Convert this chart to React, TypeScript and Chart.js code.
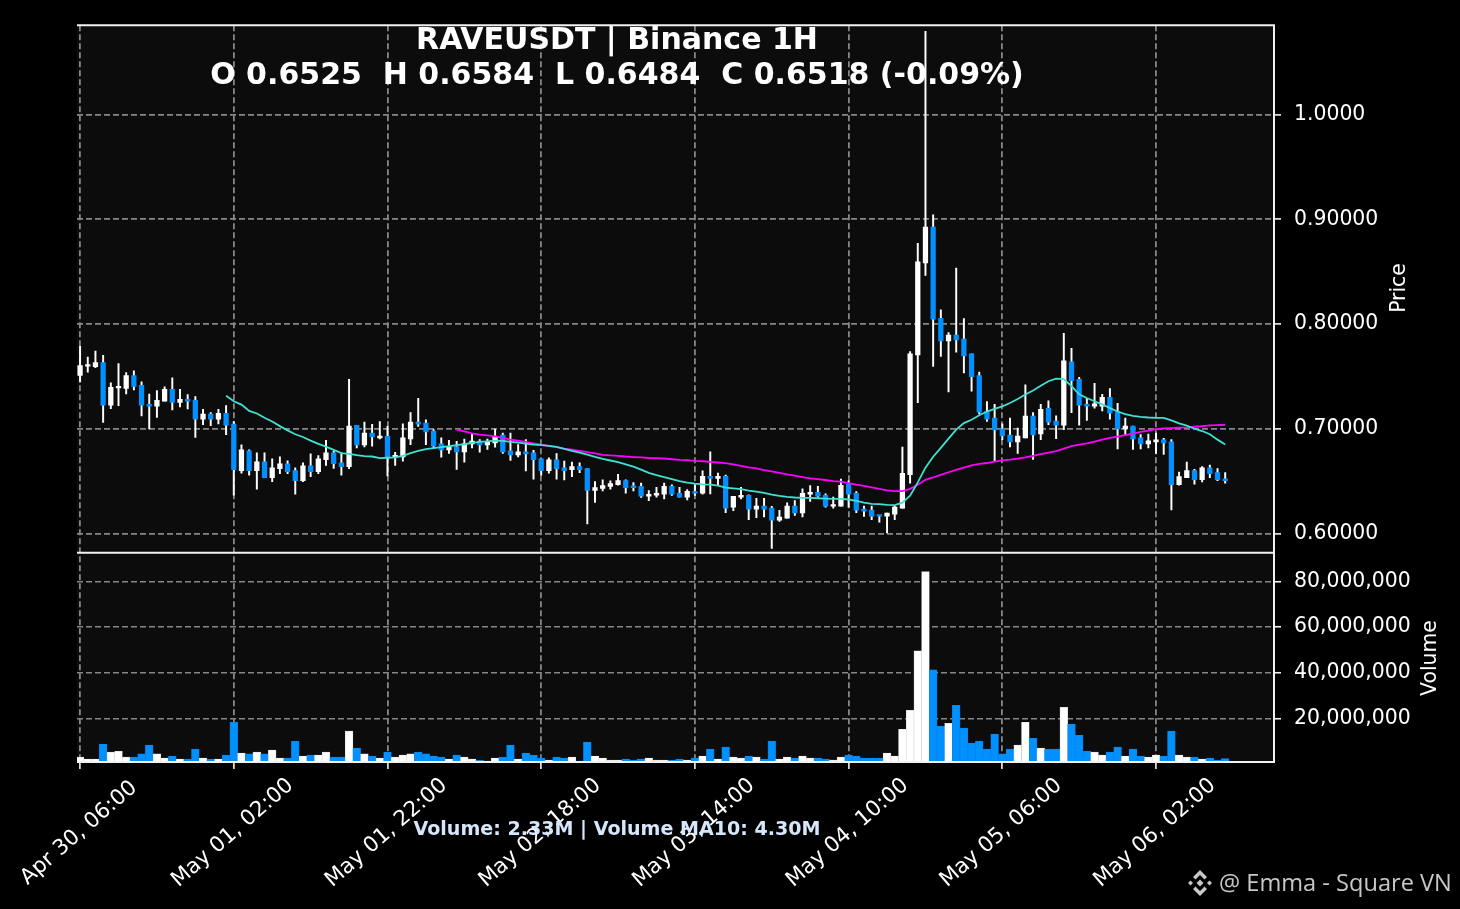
import React, { useEffect, useRef } from "react";
import { Chart, registerables } from "chart.js";

Chart.register(...registerables);

const titleLines = ["RAVEUSDT | Binance 1H", "O 0.6525  H 0.6584  L 0.6484  C 0.6518 (-0.09%)"];
const footerText = "Volume: 2.33M | Volume MA10: 4.30M";
const watermark = "@ Emma - Square VN";

const timeLabels = ["Apr 30, 06:00", "May 01, 02:00", "May 01, 22:00", "May 02, 18:00", "May 03, 14:00", "May 04, 10:00", "May 05, 06:00", "May 06, 02:00"];
const timeTickIndex = [0, 20, 40, 60, 80, 100, 120, 140];
const priceTicks = [0.6, 0.7, 0.8, 0.9, 1.0];
const priceTickLabels = ["0.60000", "0.70000", "0.80000", "0.90000", "1.0000"];
const volumeTicks = [20e6, 40e6, 60e6, 80e6];
const volumeTickLabels = ["20,000,000", "40,000,000", "60,000,000", "80,000,000"];

const opens = [
  .7511, .7600, .7596, .7634, .7227, .7392, .7388, .7511, .7416, .7236,
  .7217, .7265, .7378, .7255, .7284, .7274, .7095, .7142, .7095, .7151,
  .7047, .6603, .6792, .6603, .6688, .6537, .6622, .6669, .6603, .6508,
  .6650, .6593, .6707, .6773, .6678, .6641, .7035, .6849, .6962, .6915,
  .6931, .6733, .6735, .6905, .7066, .7057, .6981, .6858, .6801, .6830,
  .6782, .6858, .6886, .6849, .6868, .6943, .6792, .6754, .6782, .6773,
  .6716, .6603, .6707, .6631, .6612, .6641, .6622, .6414, .6433, .6452,
  .6470, .6508, .6452, .6454, .6359, .6369, .6378, .6454, .6388, .6350,
  .6403, .6388, .6548, .6530, .6548, .6255, .6350, .6369, .6236, .6265,
  .6246, .6132, .6151, .6265, .6199, .6378, .6397, .6369, .6265, .6265,
  .6473, .6388, .6236, .6227, .6177, .6170, .6189, .6246, .6566, .7708,
  .8585, .8925, .8057, .7840, .7896, .7858, .7717, .7509, .7167, .7104,
  .7000, .6943, .6877, .6915, .7123, .6953, .7198, .7075, .7038, .7642,
  .7473, .7236, .7217, .7217, .7303, .7161, .7000, .7028, .6915, .6858,
  .6877, .6896, .6877, .6470, .6537, .6603, .6518, .6631, .6584, .6525,
];
const highs = [
  .7788, .7687, .7744, .7703, .7441, .7624, .7539, .7555, .7451, .7334,
  .7366, .7403, .7489, .7378, .7328, .7309, .7189, .7158, .7189, .7224,
  .7072, .6849, .6801, .6773, .6773, .6716, .6735, .6697, .6631, .6678,
  .6764, .6748, .6893, .6789, .6773, .7473, .7035, .7066, .7044, .7072,
  .7025, .6779, .7050, .7158, .7293, .7088, .6994, .6915, .6893, .6883,
  .6905, .6953, .6899, .6905, .7000, .6962, .6962, .6852, .6899, .6798,
  .6716, .6726, .6767, .6694, .6685, .6678, .6622, .6499, .6515, .6505,
  .6568, .6515, .6489, .6485, .6413, .6444, .6485, .6467, .6444, .6422,
  .6467, .6602, .6782, .6580, .6561, .6359, .6444, .6372, .6340, .6340,
  .6262, .6224, .6296, .6318, .6429, .6460, .6454, .6381, .6350, .6523,
  .6507, .6403, .6265, .6265, .6177, .6199, .6265, .6829, .7739, .8770,
  1.0794, .9044, .8138, .7921, .8535, .8053, .7717, .7544, .7261, .7236,
  .7050, .7104, .7009, .7421, .7157, .7236, .7270, .7126, .7912, .7770,
  .7492, .7293, .7435, .7331, .7385, .7246, .7104, .7028, .6946, .6953,
  .6962, .6912, .6899, .6590, .6685, .6615, .6641, .6656, .6622, .6584,
];
const lows = [
  .7450, .7542, .7586, .7063, .7195, .7224, .7334, .7372, .7126, .7000,
  .7110, .7265, .7183, .7211, .7192, .6921, .7041, .7032, .7050, .6946,
  .6370, .6578, .6559, .6426, .6537, .6499, .6574, .6574, .6379, .6499,
  .6546, .6574, .6653, .6625, .6559, .6622, .6820, .6830, .6836, .6905,
  .6552, .6653, .6694, .6852, .7025, .6852, .6820, .6732, .6767, .6615,
  .6685, .6820, .6779, .6805, .6827, .6767, .6700, .6735, .6600, .6521,
  .6559, .6578, .6521, .6515, .6546, .6584, .6095, .6300, .6411, .6426,
  .6464, .6388, .6411, .6347, .6318, .6350, .6334, .6366, .6350, .6325,
  .6366, .6378, .6381, .6467, .6202, .6221, .6334, .6136, .6154, .6161,
  .5861, .6120, .6151, .6176, .6161, .6309, .6350, .6255, .6246, .6265,
  .6255, .6202, .6167, .6136, .6113, .6009, .6136, .6246, .6484, .7252,
  .8465, .7597, .7692, .7355, .7733, .7535, .7362, .7145, .7072, .6695,
  .6899, .6830, .6767, .6915, .6711, .6899, .7041, .6909, .6994, .7157,
  .7038, .7082, .7199, .7173, .7095, .6811, .6937, .6805, .6811, .6820,
  .6767, .6757, .6228, .6464, .6537, .6474, .6496, .6537, .6508, .6484,
];
const closes = [
  .7605, .7602, .7634, .7227, .7397, .7396, .7511, .7407, .7227, .7217,
  .7274, .7378, .7255, .7284, .7265, .7095, .7142, .7095, .7151, .7038,
  .6612, .6801, .6603, .6688, .6537, .6631, .6669, .6593, .6508, .6650,
  .6593, .6716, .6773, .6669, .6641, .7028, .6849, .6962, .6924, .6934,
  .6735, .6737, .6915, .7066, .7047, .6972, .6839, .6801, .6830, .6782,
  .6858, .6886, .6849, .6877, .6931, .6782, .6754, .6782, .6763, .6707,
  .6603, .6707, .6622, .6603, .6641, .6612, .6414, .6442, .6461, .6480,
  .6508, .6442, .6442, .6359, .6378, .6388, .6454, .6378, .6350, .6407,
  .6388, .6548, .6530, .6548, .6246, .6359, .6369, .6236, .6265, .6236,
  .6132, .6161, .6265, .6199, .6388, .6397, .6359, .6265, .6274, .6463,
  .6378, .6227, .6217, .6170, .6170, .6199, .6255, .6577, .7717, .8594,
  .8925, .8047, .7840, .7896, .7849, .7698, .7500, .7160, .7094, .6991,
  .6934, .6877, .6934, .7123, .6943, .7189, .7066, .7038, .7651, .7462,
  .7227, .7217, .7240, .7303, .7151, .7000, .7028, .6905, .6858, .6887,
  .6896, .6868, .6470, .6546, .6603, .6518, .6631, .6574, .6518, .6508,
];
const volumesM = [
  3.0, 2.2, 2.2, 8.7, 5.2, 5.6, 3.0, 3.0, 4.4, 8.3,
  4.4, 2.6, 3.5, 2.2, 2.2, 6.5, 2.6, 2.2, 2.2, 3.9,
  18.3, 4.8, 4.4, 5.2, 4.4, 6.1, 2.6, 2.6, 10.0, 3.5,
  3.9, 3.9, 5.2, 3.0, 3.0, 14.4, 7.0, 4.4, 3.5, 2.6,
  5.2, 3.0, 3.9, 4.4, 5.2, 4.4, 3.5, 3.0, 2.2, 3.9,
  3.0, 2.2, 1.7, 1.3, 2.6, 3.0, 8.3, 2.2, 4.8, 3.9,
  2.6, 1.7, 3.0, 2.6, 3.0, 1.3, 9.6, 3.5, 2.6, 1.7,
  1.7, 2.2, 1.7, 2.2, 2.6, 1.7, 1.7, 1.7, 2.2, 1.7,
  2.6, 3.5, 6.5, 2.2, 7.4, 3.0, 2.6, 3.5, 3.0, 2.2,
  10.0, 2.2, 3.0, 2.6, 3.5, 2.6, 2.6, 2.2, 1.7, 3.0,
  3.9, 3.5, 2.6, 2.6, 2.6, 4.8, 3.5, 15.2, 23.5, 49.6,
  84.3, 41.3, 16.5, 17.8, 25.7, 15.7, 9.1, 10.0, 6.5, 13.0,
  4.4, 6.5, 8.3, 18.3, 11.3, 7.0, 6.5, 6.5, 24.8, 17.4,
  12.6, 5.6, 5.2, 3.9, 5.2, 7.4, 3.5, 6.5, 3.5, 3.0,
  3.9, 3.5, 14.4, 3.9, 3.0, 3.0, 2.2, 2.6, 1.7, 2.33,
];
const ma20Start = 19;
const ma20 = [
  .7318, .7265, .7233, .7173, .7148, .7107, .7072, .7028, .6987, .6950,
  .6924, .6890, .6858, .6833, .6801, .6770, .6764, .6751, .6742, .6738,
  .6723, .6726, .6729, .6745, .6770, .6792, .6808, .6817, .6827, .6836,
  .6846, .6855, .6868, .6877, .6883, .6890, .6887, .6877, .6871, .6861,
  .6852, .6846, .6839, .6830, .6811, .6792, .6776, .6757, .6735, .6716,
  .6700, .6685, .6663, .6641, .6613, .6582, .6561, .6542, .6523, .6504,
  .6489, .6479, .6473, .6470, .6460, .6441, .6435, .6426, .6413, .6403,
  .6391, .6375, .6362, .6353, .6347, .6344, .6344, .6340, .6337, .6334,
  .6334, .6328, .6315, .6299, .6287, .6284, .6277, .6274, .6298, .6365,
  .6491, .6632, .6736, .6821, .6909, .6994, .7057, .7088, .7132, .7167,
  .7192, .7217, .7248, .7286, .7330, .7368, .7412, .7456, .7480, .7476,
  .7410, .7331, .7296, .7265, .7236, .7199, .7167, .7142, .7126, .7117,
  .7110, .7107, .7107, .7082, .7054, .7032, .7003, .6981, .6950, .6899, .6852,
];
const ma50Start = 49;
const ma50 = [
  .6994, .6978, .6959, .6946, .6940, .6931, .6915, .6899, .6890, .6877,
  .6864, .6852, .6839, .6827, .6814, .6804, .6792, .6779, .6767, .6754,
  .6748, .6745, .6738, .6733, .6729, .6724, .6722, .6719, .6712, .6706,
  .6703, .6697, .6693, .6687, .6681, .6675, .6662, .6649, .6634, .6624,
  .6608, .6596, .6583, .6567, .6555, .6542, .6530, .6523, .6514, .6504,
  .6498, .6485, .6470, .6457, .6444, .6429, .6416, .6407, .6407, .6429,
  .6468, .6516, .6538, .6563, .6588, .6610, .6632, .6654, .6667, .6676,
  .6689, .6701, .6708, .6717, .6730, .6745, .6761, .6775, .6790, .6814,
  .6836, .6851, .6864, .6880, .6899, .6915, .6928, .6943, .6956, .6972,
  .6984, .7000, .7006, .7009, .7013, .7016, .7022, .7028, .7035, .7038, .7041,
];

const UP = "#ffffff";
const DOWN = "#0090ff";
const GRID = "#868686";
const FONT = "'DejaVu Sans'";

export default function App() {
  const ref = useRef<HTMLCanvasElement | null>(null);
  useEffect(() => {
    document.body.style.margin = "0";
    document.body.style.background = "#000";
    const idx = opens.map((_, i) => i);
    const isUp = idx.map((i) => closes[i] >= opens[i]);
    const decor = {
      id: "decor",
      beforeDraw(c: any) {
        const { ctx, chartArea: a } = c;
        ctx.save();
        ctx.fillStyle = "#000";
        ctx.fillRect(0, 0, c.width, c.height);
        ctx.fillStyle = "#0c0c0c";
        ctx.fillRect(a.left, a.top, a.right - a.left, a.bottom - a.top);
        ctx.restore();
      },
      afterDraw(c: any) {
        const { ctx, chartArea: a } = c;
        const x = c.scales.x;
        const split = c.scales.yv.top;
        ctx.save();
        ctx.strokeStyle = "#f2f2f2";
        ctx.lineWidth = 2;
        ctx.beginPath();
        ctx.moveTo(a.left, a.top);
        ctx.lineTo(a.right, a.top);
        ctx.lineTo(a.right, a.bottom);
        ctx.lineTo(a.left, a.bottom);
        ctx.moveTo(a.left, split);
        ctx.lineTo(a.right, split);
        ctx.stroke();

        ctx.fillStyle = "#ffffff";
        ctx.textAlign = "center";
        ctx.textBaseline = "middle";
        ctx.font = `bold 30px ${FONT}`;
        ctx.fillText(titleLines[0], 617, 41);
        ctx.fillText(titleLines[1], 617, 76);

        ctx.font = `21.4px ${FONT}`;
        timeLabels.forEach((t, i) => {
          ctx.save();
          ctx.translate(x.getPixelForValue(timeTickIndex[i]) - 1, 833);
          ctx.rotate((-41 * Math.PI) / 180);
          ctx.fillText(t, 0, 0);
          ctx.restore();
        });

        ctx.font = `20.4px ${FONT}`;
        const axisTitle = (t: string, px: number, py: number) => {
          ctx.save();
          ctx.translate(px, py);
          ctx.rotate(-Math.PI / 2);
          ctx.fillText(t, 0, 0);
          ctx.restore();
        };
        axisTitle("Price", 1400, 288);
        axisTitle("Volume", 1431, 658);

        ctx.font = `bold 19.07px ${FONT}`;
        ctx.fillStyle = "#d6e6fb";
        ctx.fillText(footerText, 617, 830);
        ctx.restore();
      },
    };
    const gridOpts = { color: GRID, lineWidth: 1.8, tickColor: "#f2f2f2", tickLength: 7, tickWidth: 1.6, offset: false };
    const chart = new Chart(ref.current as HTMLCanvasElement, {
      type: "bar",
      data: {
        datasets: [
          {
            type: "line",
            label: "MA20",
            data: ma20.map((y, i) => ({ x: i + ma20Start, y })),
            borderColor: "#40e0d0",
            borderWidth: 1.8,
            pointRadius: 0,
            yAxisID: "y",
            order: 0,
          },
          {
            type: "line",
            label: "MA50",
            data: ma50.map((y, i) => ({ x: i + ma50Start, y })),
            borderColor: "#ff00ff",
            borderWidth: 1.8,
            pointRadius: 0,
            yAxisID: "y",
            order: 0,
          },
          {
            label: "Body",
            data: idx.map((i) => ({ x: i, y: [Math.min(opens[i], closes[i]), Math.max(opens[i], closes[i])] })),
            backgroundColor: idx.map((i) => (isUp[i] ? UP : DOWN)),
            barThickness: 4.6,
            minBarLength: 1.6,
            grouped: false,
            yAxisID: "y",
            order: 1,
          },
          {
            label: "Wick",
            data: idx.map((i) => ({ x: i, y: [lows[i], highs[i]] })),
            backgroundColor: "#ffffff",
            barThickness: 1.3,
            grouped: false,
            yAxisID: "y",
            order: 2,
          },
          {
            label: "Volume",
            data: idx.map((i) => ({ x: i, y: volumesM[i] * 1e6 })),
            backgroundColor: idx.map((i) => (isUp[i] ? UP : DOWN)),
            borderColor: idx.map((i) => (isUp[i] ? "#d8d8d8" : "#0a84e6")),
            borderWidth: 0.6,
            barThickness: 7.68,
            grouped: false,
            yAxisID: "yv",
            order: 1,
          },
        ] as any,
      },
      options: {
        responsive: false,
        animation: false,
        devicePixelRatio: 1,
        layout: { padding: { top: 13, left: 77, right: 0, bottom: 0 } },
        plugins: { legend: { display: false }, tooltip: { enabled: false }, title: { display: false } },
        scales: {
          x: {
            type: "linear",
            offset: false,
            min: -0.4,
            max: 155.35,
            afterBuildTicks: (s: any) => {
              s.ticks = timeTickIndex.map((value) => ({ value }));
            },
            afterFit: (s: any) => {
              s.height = 147;
            },
            ticks: { display: false, autoSkip: false },
            grid: gridOpts,
            border: { display: false, dash: [6, 3] },
          },
          y: {
            type: "linear",
            position: "right",
            stack: "panels",
            stackWeight: 532,
            min: 0.582,
            max: 1.0851,
            afterBuildTicks: (s: any) => {
              s.ticks = priceTicks.map((value) => ({ value }));
            },
            afterFit: (s: any) => {
              s.width = 186;
            },
            ticks: {
              color: "#ffffff",
              font: { family: "DejaVu Sans", size: 20.4 },
              padding: 13,
              callback: (v: any) => priceTickLabels[priceTicks.indexOf(v)],
            },
            grid: gridOpts,
            border: { display: false, dash: [6, 3] },
          },
          yv: {
            type: "linear",
            position: "right",
            stack: "panels",
            stackWeight: 211,
            min: 870000,
            max: 92600000,
            afterBuildTicks: (s: any) => {
              s.ticks = volumeTicks.map((value) => ({ value }));
            },
            afterFit: (s: any) => {
              s.width = 186;
            },
            ticks: {
              color: "#ffffff",
              font: { family: "DejaVu Sans", size: 20.4 },
              padding: 13,
              callback: (v: any) => volumeTickLabels[volumeTicks.indexOf(v)],
            },
            grid: { ...gridOpts, lineWidth: 1.5 },
            border: { display: false, dash: [6, 3] },
          },
        },
      } as any,
      plugins: [decor] as any,
    });
    return () => chart.destroy();
  }, []);
  return (
    <div style={{ position: "absolute", left: 0, top: 0, width: 1460, height: 909, background: "#000", overflow: "hidden" }}>
      <canvas ref={ref} width={1460} height={909} style={{ display: "block" }} />
      <svg width={28} height={30} viewBox="0 0 28 30" style={{ position: "absolute", left: 1186, top: 868 }}>
        <g fill="#c8c8c8">
          <path d="M14 2 L21 9 L18.5 11.5 L14 7 L9.5 11.5 L7 9 Z" />
          <path d="M14 28 L7 21 L9.5 18.5 L14 23 L18.5 18.5 L21 21 Z" />
          <path d="M14 11.5 L17.5 15 L14 18.5 L10.5 15 Z" />
          <path d="M4.5 12.5 L7 15 L4.5 17.5 L2 15 Z" />
          <path d="M23.5 12.5 L26 15 L23.5 17.5 L21 15 Z" />
        </g>
      </svg>
      <div style={{ position: "absolute", left: 1219, top: 866, font: "23.6px 'Open Sans'", color: "#c8c8c8", whiteSpace: "nowrap" }}>{watermark}</div>
    </div>
  );
}
